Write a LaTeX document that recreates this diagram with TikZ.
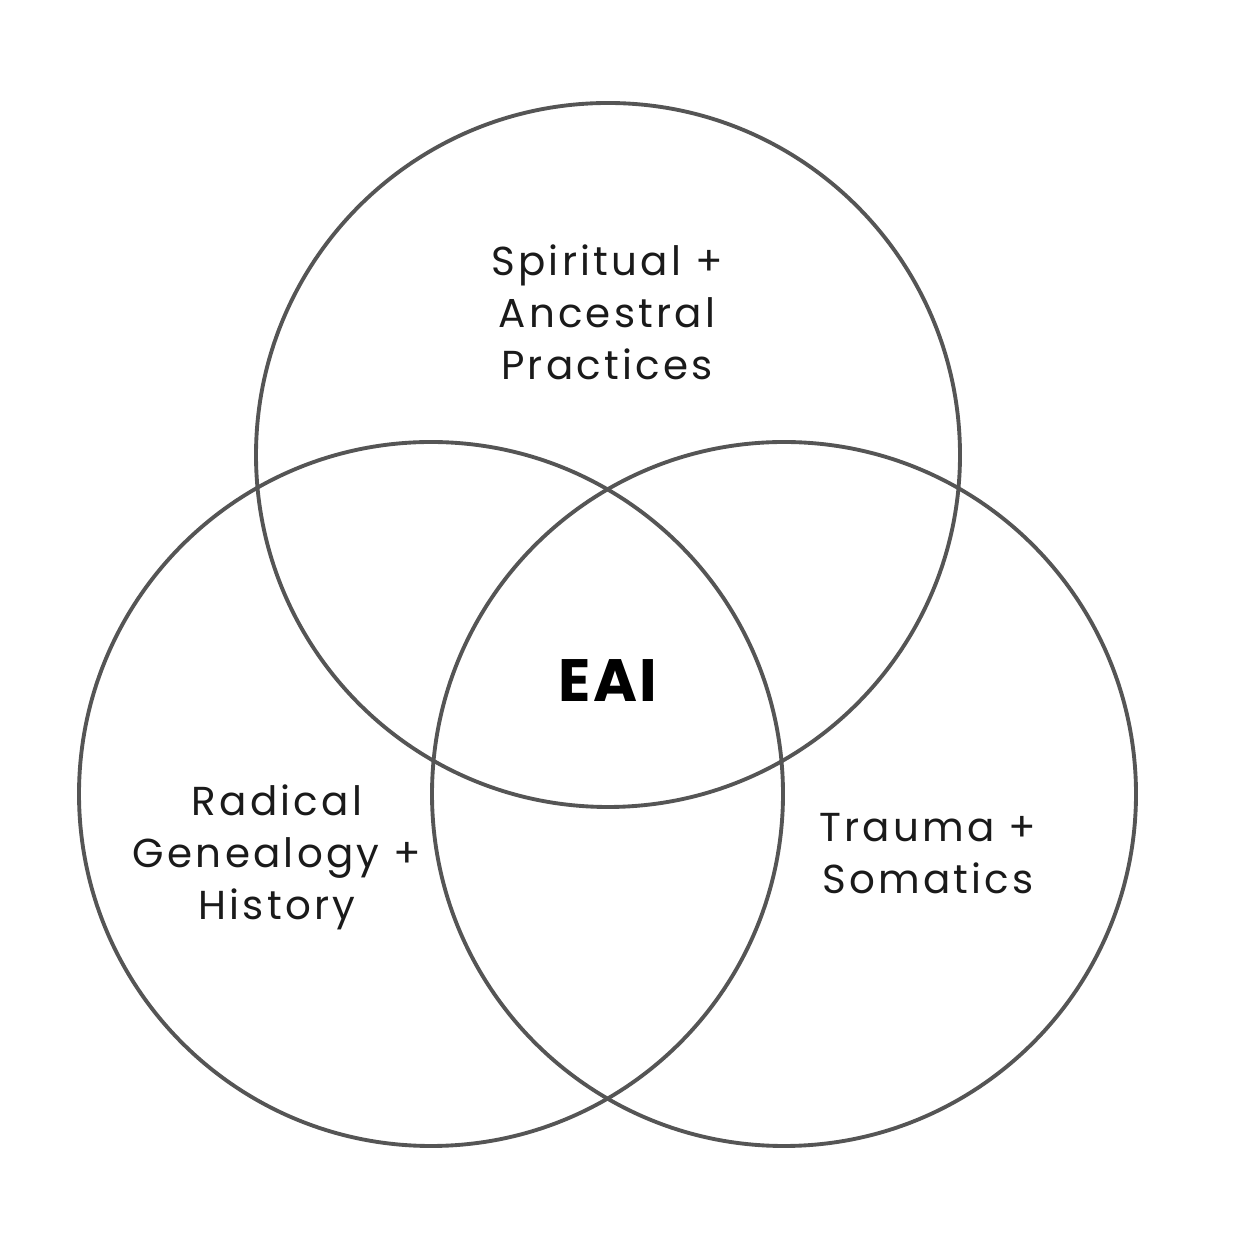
\documentclass[tikz,border=0pt]{standalone}
\usepackage{fontspec}
\setmainfont{Poppins}
\usepackage{xcolor}
\usepackage{tikz}
\usetikzlibrary{positioning}
\definecolor{ringgray}{HTML}{555555}
\definecolor{labelblack}{HTML}{1A1A1A}
\tikzset{
  ring/.style={circle,draw=ringgray,line width=2.2pt,minimum size=14.08cm,inner sep=0pt},
  area/.style={align=center,text=labelblack,
    font=\fontsize{23}{29.6}\selectfont\addfontfeatures{LetterSpace=8}},
  core/.style={text=black,font=\fontsize{34}{40}\selectfont\bfseries\addfontfeatures{LetterSpace=4}}
}
\begin{document}
\begin{tikzpicture}
\useasboundingbox (0,0) rectangle (25,25);
\node[ring] (spirit) at (12.16,15.9) {};
\node[ring] (history) at (8.62,9.12) {};
\node[ring] (trauma) at (15.68,9.12) {};
\node[area] (spirittext) at (12.14,18.76) {Spiritual +\\Ancestral\\Practices};
\node[area] (historytext) at (5.54,7.86) {Radical\\Genealogy +\\History};
\node[area] (traumatext) at (18.56,7.92) {Trauma +\\Somatics};
\node[core] (eai) at (12.16,11.38) {EAI};
\end{tikzpicture}
\end{document}
